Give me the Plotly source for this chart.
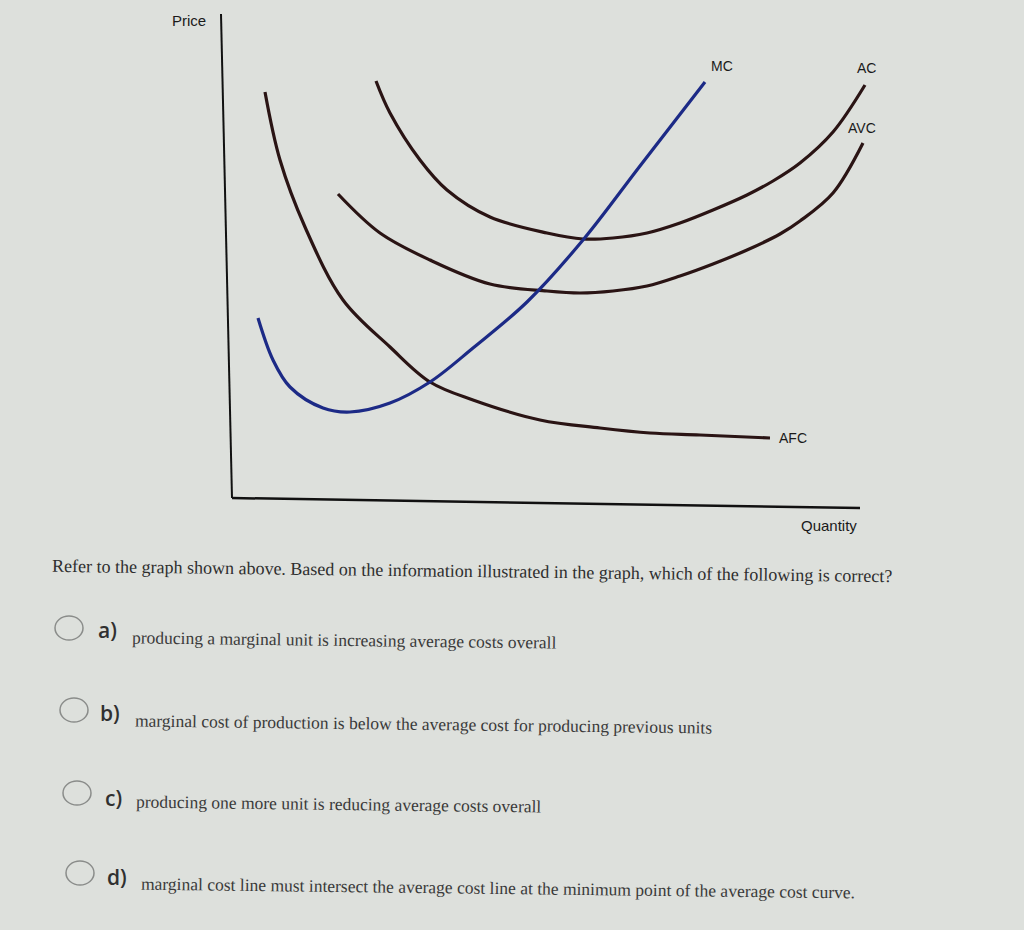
import plotly.graph_objects as go

# cost curves (quantity, price) with the axis corner as origin
afc_q = [33, 48, 73, 111, 158, 198, 241, 308, 368, 418, 468, 538]
afc_p = [406, 338, 271, 198, 151, 116, 98, 78, 70, 65, 63, 60]

mc_q = [26, 41, 58, 91, 118, 158, 198, 241, 295, 351, 408, 473]
mc_p = [180, 138, 111, 90, 86, 95, 116, 150, 196, 258, 332, 416]

ac_q = [144, 158, 188, 215, 258, 315, 351, 381, 415, 448, 481, 515, 541, 568, 601, 633]
ac_p = [417, 385, 338, 308, 281, 265, 259, 260, 265, 275, 288, 303, 317, 335, 366, 413]

avc_q = [106, 148, 198, 258, 315, 348, 381, 415, 448, 481, 515, 548, 568, 601, 631]
avc_p = [304, 265, 238, 214, 207, 205, 207, 212, 222, 234, 248, 264, 277, 305, 355]

question = ("Refer to the graph shown above. Based on the information illustrated "
            "in the graph, which of the following is correct?")
option_letters = ["a)", "b)", "c)", "d)"]
option_texts = [
    "producing a marginal unit is increasing average costs overall",
    "marginal cost of production is below the average cost for producing previous units",
    "producing one more unit is reducing average costs overall",
    "marginal cost line must intersect the average cost line at the minimum point of the average cost curve.",
]

# page positions are in screen pixels, converted to the axis frame
X0, Y0 = 232, 498


def qx(px):
    return px - X0


def py(pix):
    return Y0 - pix


DARK = "#2a1414"
BLUE = "#1c2a86"

fig = go.Figure()
for q, p, col in [(afc_q, afc_p, DARK), (avc_q, avc_p, DARK),
                  (ac_q, ac_p, DARK), (mc_q, mc_p, BLUE)]:
    fig.add_trace(go.Scatter(x=q, y=p, mode="lines",
                             line=dict(color=col, width=3.2, shape="spline", smoothing=1),
                             hoverinfo="skip", showlegend=False))

shapes = [
    # axes, slightly skewed like the photo
    dict(type="line", x0=qx(221), y0=py(14), x1=qx(232), y1=py(498),
         line=dict(color="#111", width=2)),
    dict(type="line", x0=qx(232), y0=py(498), x1=qx(860), y1=py(508),
         line=dict(color="#111", width=2.5)),
]

annotations = []
labels = [("Price", 189, 20, 15), ("MC", 722, 66, 14), ("AC", 866, 68, 14),
          ("AVC", 862, 128, 14), ("AFC", 793, 438, 14), ("Quantity", 829, 525, 15)]
for txt, x, y, sz in labels:
    annotations.append(dict(x=qx(x), y=py(y), text=txt, showarrow=False,
                            font=dict(family="Liberation Sans", size=sz, color="#1a1a1a")))

annotations.append(dict(x=qx(50), y=py(571), text=question, showarrow=False, xanchor="left",
                        textangle=0.7,
                        font=dict(family="Liberation Serif", size=18, color="#2e2e2e")))

circle_xy = [(69, 628), (74, 710), (77, 793), (80, 873)]
letter_xy = [(107, 630), (110, 713), (113, 798), (117, 877)]
text_xy = [(130, 640), (133, 724), (134, 804), (139, 888)]
for i in range(4):
    cx, cy = circle_xy[i]
    shapes.append(dict(type="circle", x0=qx(cx - 14), x1=qx(cx + 14), y0=py(cy - 12), y1=py(cy + 12),
                       line=dict(color="#8a8c8a", width=1.5)))
    lx, ly = letter_xy[i]
    annotations.append(dict(x=qx(lx), y=py(ly), text=option_letters[i], showarrow=False,
                            font=dict(family="Open Sans", size=21, color="#303030", weight=600)))
    tx, ty = text_xy[i]
    annotations.append(dict(x=qx(tx), y=py(ty), text=option_texts[i], showarrow=False,
                            xanchor="left", textangle=0.7,
                            font=dict(family="Liberation Serif", size=17.5, color="#3a3a3a")))

fig.update_layout(
    width=1024, height=930,
    margin=dict(l=0, r=0, t=0, b=0),
    paper_bgcolor="#dde0dc", plot_bgcolor="#dde0dc",
    xaxis=dict(range=[qx(0), qx(1024)], visible=False, fixedrange=True),
    yaxis=dict(range=[py(930), py(0)], visible=False, fixedrange=True),
    shapes=shapes, annotations=annotations,
)

fig.write_html("out.html", config={"displayModeBar": False},
               post_script="document.body.style.margin='0';document.body.style.overflow='hidden';")
